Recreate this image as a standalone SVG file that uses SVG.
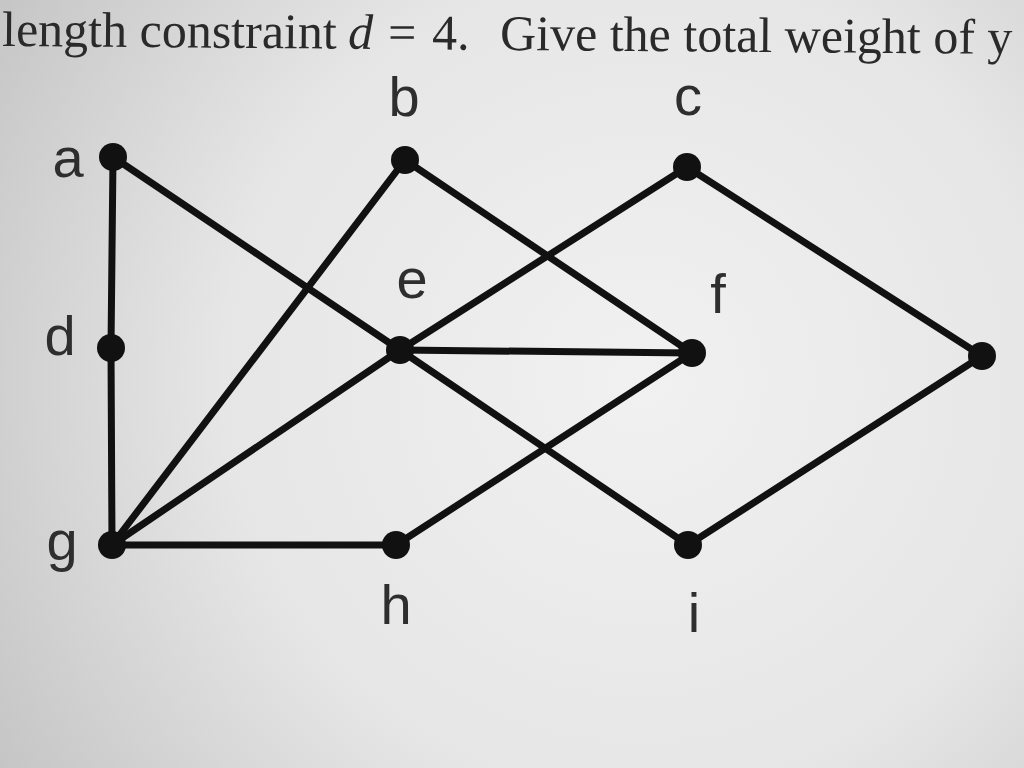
<svg xmlns="http://www.w3.org/2000/svg" width="1024" height="768" viewBox="0 0 1024 768">
<defs>
<radialGradient id="bg" cx="640" cy="380" r="760" gradientUnits="userSpaceOnUse">
<stop offset="0" stop-color="#f1f1f1"/>
<stop offset="0.55" stop-color="#e6e6e6"/>
<stop offset="1" stop-color="#c4c4c4"/>
</radialGradient>
<style>
.edge{stroke:#111;stroke-width:7;stroke-linecap:round;fill:none}
.node{fill:#111}
.lbl{font-family:"Liberation Sans",Arial,sans-serif;font-size:56px;fill:#2e2e2e;text-anchor:middle}
.head{font-family:"Liberation Serif","Times New Roman",serif;font-size:50px;fill:#2a2a2a}
</style>
</defs>
<rect width="1024" height="768" fill="url(#bg)"/>
<text class="head" y="46" transform="rotate(0.45 0 46)"><tspan x="2">length constraint</tspan><tspan x="348" font-style="italic">d</tspan><tspan x="388">=</tspan><tspan x="432">4.</tspan><tspan x="500">Give the total weight of y</tspan></text>
<g id="connectors">
<line class="edge" x1="113" y1="157" x2="111" y2="348"/>
<line class="edge" x1="111" y1="348" x2="112" y2="545"/>
<line class="edge" x1="113" y1="157" x2="400" y2="350"/>
<line class="edge" x1="400" y1="350" x2="688" y2="545"/>
<line class="edge" x1="405" y1="160" x2="112" y2="545"/>
<line class="edge" x1="405" y1="160" x2="692" y2="353"/>
<line class="edge" x1="687" y1="167" x2="400" y2="350"/>
<line class="edge" x1="400" y1="350" x2="112" y2="545"/>
<line class="edge" x1="400" y1="350" x2="692" y2="353"/>
<line class="edge" x1="687" y1="167" x2="982" y2="356"/>
<line class="edge" x1="982" y1="356" x2="688" y2="545"/>
<line class="edge" x1="692" y1="353" x2="396" y2="545"/>
<line class="edge" x1="112" y1="545" x2="396" y2="545"/>
</g>
<g id="node-a"><circle class="node" cx="113" cy="157" r="14"/><text class="lbl" x="68" y="177">a</text></g>
<g id="node-b"><circle class="node" cx="405" cy="160" r="14"/><text class="lbl" x="404" y="116">b</text></g>
<g id="node-c"><circle class="node" cx="687" cy="167" r="14"/><text class="lbl" x="688" y="115">c</text></g>
<g id="node-d"><circle class="node" cx="111" cy="348" r="14"/><text class="lbl" x="60" y="355">d</text></g>
<g id="node-e"><circle class="node" cx="400" cy="350" r="14"/><text class="lbl" x="412" y="298">e</text></g>
<g id="node-f"><circle class="node" cx="692" cy="353" r="14"/><text class="lbl" x="718" y="313">f</text></g>
<g id="node-r"><circle class="node" cx="982" cy="356" r="14"/></g>
<g id="node-g"><circle class="node" cx="112" cy="545" r="14"/><text class="lbl" x="62" y="560">g</text></g>
<g id="node-h"><circle class="node" cx="396" cy="545" r="14"/><text class="lbl" x="396" y="624">h</text></g>
<g id="node-i"><circle class="node" cx="688" cy="545" r="14"/><text class="lbl" x="694" y="632">i</text></g>
</svg>
